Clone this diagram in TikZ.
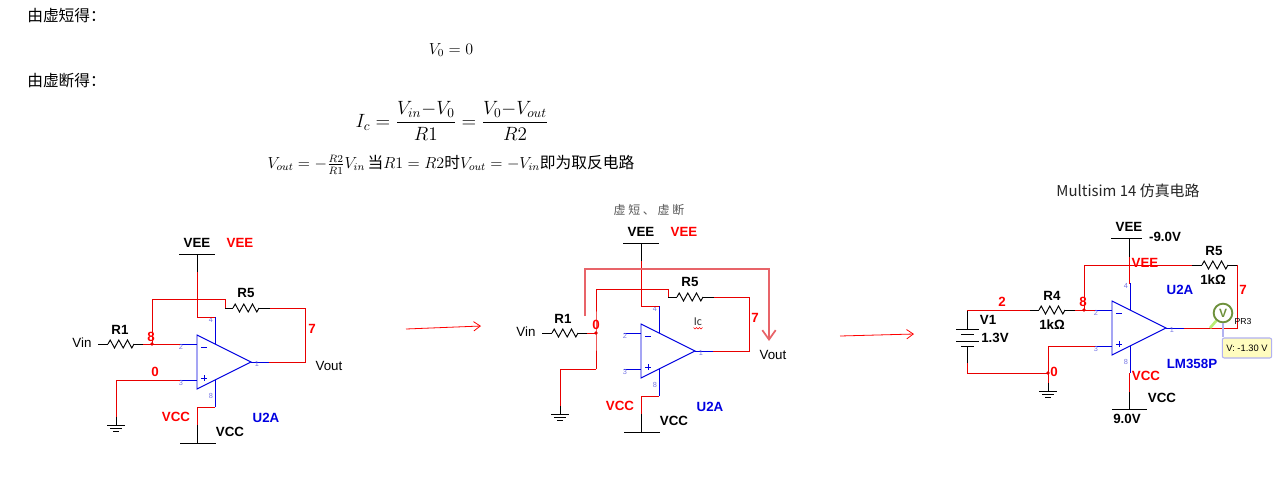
\documentclass[tikz,border=0pt]{standalone}
\usepackage[no-math]{fontspec}
\usepackage{amsmath}
\usetikzlibrary{arrows.meta}
\setmainfont{Liberation Sans}
\newfontfamily\cjk{Noto Sans CJK SC}
\newfontfamily\cjkwide{Noto Sans CJK SC}[LetterSpace=22]
\newfontfamily\calib{Carlito}
\definecolor{wirered}{RGB}{232,0,0}
\definecolor{pinblue}{RGB}{0,0,225}
\definecolor{pintxt}{RGB}{120,120,230}
\definecolor{markred}{RGB}{232,100,105}
\definecolor{probegreen}{RGB}{110,145,60}
\tikzset{
  wire/.style={line width=0.7pt,wirered},
  blk/.style={line width=0.7pt,black},
  opblue/.style={line width=0.7pt,pinblue},
  lab/.style={inner sep=0pt,font=\fontsize{10}{12}\selectfont\bfseries},
  labr/.style={lab,text=red},
  labb/.style={lab,text=pinblue},
  plain/.style={inner sep=0pt,font=\fontsize{10}{12}\selectfont},
  pin/.style={inner sep=0pt,text=pintxt,font=\fontsize{5.5}{6}\selectfont},
  body/.style={inner sep=0pt,font=\fontsize{11.8}{14}\selectfont},
  flow/.style={line width=0.6pt,red,-{Straight Barb[length=5pt,width=7pt]}},
  opamp/.pic={
    \coordinate (-a) at (0,-27);
    \coordinate (-b) at (0,27);
    \coordinate (-tip) at (54,0);
    \coordinate (-top) at (18,-45);
    \coordinate (-topi) at (18,-18);
    \coordinate (-bot) at (18,45);
    \coordinate (-boti) at (18,18);
    \coordinate (-inm) at (-17,-18);
    \coordinate (-inmi) at (0,-18);
    \coordinate (-inp) at (-17,18);
    \coordinate (-inpi) at (0,18);
    \coordinate (-out) at (72,0);
    \draw[opblue] (-a) -- (-tip) -- (-b) -- cycle;
    \draw[opblue] (-top) -- (-topi) (-bot) -- (-boti) (-inm) -- (-inmi) (-inp) -- (-inpi) (-tip) -- (-out);
    \draw[opblue] (4,-15) -- (10,-15) (4,16) -- (10,16) (7,13) -- (7,19);
    \node (-n4) [pin] at (14,-42) {4};
    \node (-n2) [pin] at (-16,-15) {2};
    \node (-n3) [pin] at (-16,21) {3};
    \node (-n1) [pin] at (60,2) {1};
    \node (-n8) [pin] at (14,34) {8};
  },
  res/.pic={
    \coordinate (-l) at (0,0);
    \coordinate (-r) at (26,0);
    \draw[blk] (-l) -- (2.2,-4) -- (6.5,4) -- (10.8,-4) -- (15.2,4) -- (19.5,-4) -- (23.8,4) -- (-r);
  },
  gnd/.pic={
    \coordinate (-t) at (0,-8);
    \coordinate (-o) at (0,0);
    \draw[blk] (-t) -- (-o) (-9,0) -- (9,0) (-6,3.2) -- (6,3.2) (-3,6.4) -- (3,6.4);
  }
}
\begin{document}
\begin{tikzpicture}[x=0.75pt,y=-0.75pt]
\useasboundingbox (0,0) rectangle (1285,497);
\fill[white] (0,0) rectangle (1285,497);

% text block
\node (t1) [body,anchor=west] at (27,16) {\cjk 由虚短得：};
\node (e1) [body] at (451,50) {$V_0=0$};
\node (t2) [body,anchor=west] at (27,81) {\cjk 由虚断得：};
\node (e2) [inner sep=0pt,font=\fontsize{14.8}{17}\selectfont] at (452,121)
  {$\displaystyle I_c=\frac{V_{in}{-}V_0}{R1}=\frac{V_0{-}V_{out}}{R2}$};
\node (e3) [body] at (451,164.5)
  {$V_{out}=-\frac{R2}{R1}V_{in}$\,{\cjk 当}$R1=R2${\cjk 时}$V_{out}=-V_{in}${\cjk 即为取反电路}};
\node (cap2) [inner sep=0pt,text=black!65,font=\fontsize{9}{10}\selectfont\cjkwide] at (649,210) {虚短、虚断};
\node (cap3) [inner sep=0pt,text=black!85,font=\fontsize{11.2}{13}\selectfont\cjk] at (1128,191) {Multisim 14 仿真电路};

% first circuit
\pic (a) at (197,362) {opamp};
\pic (ar1) at (108,344) {res};
\pic (ar5) at (233,308) {res};
\pic (ag) at (116,425) {gnd};
\coordinate (avl) at (179,254);
\coordinate (avr) at (215,254);
\coordinate (av) at (197,254);
\coordinate (avm) at (197,272);
\coordinate (acl) at (180,443);
\coordinate (acr) at (216,443);
\coordinate (ac) at (197,443);
\coordinate (acm) at (197,425);
\coordinate (ain) at (98,344);
\coordinate (ab) at (143,344);
\coordinate (an8) at (152,344);
\coordinate (af1) at (225,299);
\coordinate (af2) at (225,308);
\coordinate (af3) at (270,308);
\coordinate (af4) at (305,362);
\draw[blk] (avl) -- (avr) (av) -- (avm) (acl) -- (acr) (ac) -- (acm);
\draw[blk] (ain) -- (ar1-l) (ar1-r) -- (ab) (af2) -- (ar5-l) (ar5-r) -- (af3);
\draw[wire] (ab) -- (a-inm);
\draw[wire] (an8) |- (af1) -- (af2);
\draw[wire] (af3) -| (af4) -- (a-out);
\draw[wire] (avm) |- (a-top);
\draw[wire] (acm) |- (a-bot);
\draw[wire] (a-inp) -| (ag-t);
\fill[wirered] (an8) circle (1.8);
\node (al1) [lab] at (197,243) {VEE};
\node (al2) [labr] at (240,243) {VEE};
\node (al3) [lab] at (246,293) {R5};
\node (al4) [lab] at (120,330) {R1};
\node (al5) [plain] at (82,343) {Vin};
\node (al6) [labr] at (151,337) {8};
\node (al7) [labr] at (312,329) {7};
\node (al8) [plain] at (329,366) {Vout};
\node (al9) [labr] at (155,372) {0};
\node (al10) [labr] at (176,417) {VCC};
\node (al11) [labb] at (266,418) {U2A};
\node (al12) [lab] at (230,432) {VCC};

% flow arrows
\coordinate (fa1) at (406,329);
\coordinate (fa2) at (481,326);
\coordinate (fb1) at (840,336);
\coordinate (fb2) at (914,334);
\draw[flow] (fa1) -- (fa2);
\draw[flow] (fb1) -- (fb2);

% second circuit
\pic (b) at (641,351) {opamp};
\pic (br1) at (552,333) {res};
\pic (br5) at (677,297) {res};
\pic (bg) at (560,414) {gnd};
\coordinate (bvl) at (623,243);
\coordinate (bvr) at (659,243);
\coordinate (bv) at (641,243);
\coordinate (bvm) at (641,261);
\coordinate (bcl) at (624,432);
\coordinate (bcr) at (660,432);
\coordinate (bc) at (641,432);
\coordinate (bcm) at (641,414);
\coordinate (bin) at (542,333);
\coordinate (bb) at (587,333);
\coordinate (bn0) at (596,333);
\coordinate (bn1) at (596,369);
\coordinate (bf1) at (668,289);
\coordinate (bf2) at (668,297);
\coordinate (bf3) at (714,297);
\coordinate (bf4) at (749,351);
\coordinate (bg1) at (560,369);
\draw[blk] (bvl) -- (bvr) (bv) -- (bvm) (bcl) -- (bcr) (bc) -- (bcm);
\draw[blk] (bin) -- (br1-l) (br1-r) -- (bb) (bf2) -- (br5-l) (br5-r) -- (bf3);
\draw[wire] (bb) -- (bn0);
\draw[wire] (bn1) -- (bn0) |- (bf1) -- (bf2);
\draw[wire] (bn1) -- (bg1) -- (bg-t);
\draw[wire] (bf3) -| (bf4) -- (b-out);
\draw[wire] (bvm) |- (b-top);
\draw[wire] (bcm) |- (b-bot);
\fill[wirered] (bn0) circle (1.8);
\coordinate (bm1) at (585,316);
\coordinate (bm2) at (585,269);
\coordinate (bm3) at (769,269);
\coordinate (bm4) at (769,341);
\draw[markred,line width=1.3pt,-{Straight Barb[length=7pt,width=10pt]}] (bm1) -- (bm2) -- (bm3) -- (bm4);
\node (bl1) [lab] at (641,232) {VEE};
\node (bl2) [labr] at (684,232) {VEE};
\node (bl3) [lab] at (690,282) {R5};
\node (bl4) [lab] at (563,319) {R1};
\node (bl5) [plain] at (526,332) {Vin};
\node (bl6) [labr] at (596,325) {0};
\node (bl7) [labr] at (755,318) {7};
\node (bl8) [plain] at (773,355) {Vout};
\node (bl10) [labr] at (620,406) {VCC};
\node (bl11) [labb] at (710,407) {U2A};
\node (bl12) [lab] at (674,421) {VCC};
\node (bl13) [inner sep=0pt,text=black!80,font=\fontsize{9}{11}\selectfont\calib] at (698,322) {Ic};
\draw[red,line width=0.4pt] (693.5,327.5) -- (695,329) -- (696.5,327.5) -- (698,329) -- (699.5,327.5) -- (701,329) -- (702.5,327.5);

% third circuit
\pic (c) at (1112,328) {opamp};
\pic (cr4) at (1039,310) {res};
\pic (cr5) at (1202,265) {res};
\pic (cg) at (1048,391) {gnd};
\coordinate (cvl) at (1111,238);
\coordinate (cvr) at (1142,238);
\coordinate (cv) at (1129,238);
\coordinate (cvm) at (1129,257);
\coordinate (ccl) at (1112,409);
\coordinate (ccr) at (1147,409);
\coordinate (cc) at (1129,409);
\coordinate (ccm) at (1129,392);
\coordinate (cn8) at (1084,310);
\coordinate (cw1) at (1030,310);
\coordinate (cw2) at (1075,310);
\coordinate (cf1) at (1084,265);
\coordinate (cf2) at (1192,265);
\coordinate (cf3) at (1237,265);
\coordinate (cf4) at (1237,328);
\coordinate (cbt) at (967,310);
\coordinate (cb1) at (967,329);
\coordinate (cb2) at (967,346);
\coordinate (cb3) at (967,363);
\coordinate (cn0) at (1048,373);
\draw[blk] (cvl) -- (cvr) (cv) -- (cvm) (ccl) -- (ccr) (cc) -- (ccm);
\draw[blk] (cw1) -- (cr4-l) (cr4-r) -- (cw2) (cf2) -- (cr5-l) (cr5-r) -- (cf3);
\draw[blk] (cbt) -- (cb1) (cb2) -- (cb3);
\draw[blk] (956,329) -- (979,329) (961,334) -- (974,334) (956,341) -- (979,341) (961,346) -- (974,346);
\draw[wire] (cb3) |- (cn0);
\draw[wire] (cbt) -- (cw1);
\draw[wire] (cw2) -- (c-inm);
\draw[wire] (cn8) -- (cf1) -- (cf2);
\draw[wire] (cf3) -- (cf4) -- (c-out);
\draw[wire] (cvm) |- (c-top);
\draw[wire] (ccm) |- (c-bot);
\draw[wire] (cn0) |- (c-inp);
\draw[wire] (cn0) -- (cg-t);
\fill[wirered] (cn8) circle (1.8);
\fill[wirered] (cn0) circle (1.8);
\node (cl1) [lab] at (1129,227) {VEE};
\node (cl2) [lab] at (1165,237) {-9.0V};
\node (cl3) [lab] at (1214,251) {R5};
\node (cl4) [labr] at (1145,263) {VEE};
\node (cl5) [lab] at (1213,280) {1kΩ};
\node (cl6) [labr] at (1243,290) {7};
\node (cl7) [labb] at (1180,290) {U2A};
\node (cl8) [lab] at (1052,296) {R4};
\node (cl9) [labr] at (1002,302) {2};
\node (cl10) [labr] at (1083,302) {8};
\node (cl11) [lab] at (1052,325) {1kΩ};
\node (cl12) [lab] at (988,320) {V1};
\node (cl13) [lab] at (995,338) {1.3V};
\node (cl14) [labr] at (1054,372) {0};
\node (cl15) [labb] at (1192,364) {LM358P};
\node (cl16) [labr] at (1146,376) {VCC};
\node (cl17) [lab] at (1162,398) {VCC};
\node (cl18) [lab] at (1127,419) {9.0V};

% probe
\coordinate (ph) at (1210,328);
\node (pr) [circle,draw=probegreen,line width=1.4pt,fill=white,minimum size=14pt,inner sep=0pt,text=probegreen,font=\fontsize{9}{10}\selectfont\bfseries] at (1223,313) {V};
\draw[line width=2pt,black!25!green!50!yellow!55] (pr) -- (ph);
\node (prl) [inner sep=0pt,font=\fontsize{6.5}{8}\selectfont] at (1243,322) {PR3};
\node (prb) [rectangle,rounded corners=1.5pt,draw=black!20!blue!30,line width=0.8pt,fill=yellow!25,minimum width=37pt,minimum height=15pt,inner sep=0pt,font=\fontsize{7}{9}\selectfont] at (1247,348) {V: -1.30 V};
\draw[line width=0.8pt,black!20!blue!30] (pr) -- (prb.north west -| pr);
\end{tikzpicture}
\end{document}
